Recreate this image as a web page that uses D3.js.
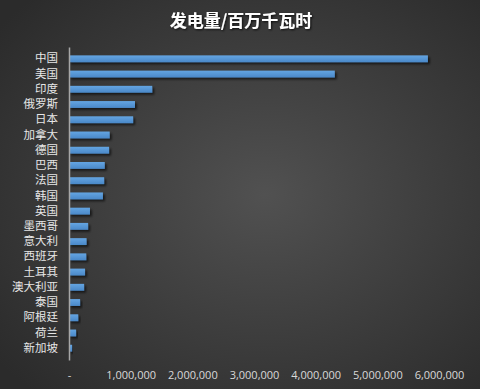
<!DOCTYPE html>
<html>
<head>
<meta charset="utf-8">
<script src="https://cdn.jsdelivr.net/npm/d3@7"></script>
<style>
  body { margin: 0; background: #fff; }
  svg { display: block; font-family: "Noto Sans CJK SC", "Noto Sans", sans-serif; }
</style>
</head>
<body>
<div id="chart"></div>
<script>
var countries = ["中国", "美国", "印度", "俄罗斯", "日本", "加拿大", "德国", "巴西", "法国", "韩国",
  "英国", "墨西哥", "意大利", "西班牙", "土耳其", "澳大利亚", "泰国", "阿根廷", "荷兰", "新加坡"];
var output = [5820000, 4310000, 1350000, 1070000, 1040000, 660000, 650000, 580000, 570000, 550000,
  340000, 310000, 285000, 280000, 260000, 245000, 180000, 150000, 115000, 50000];
var tickValues = [0, 1000000, 2000000, 3000000, 4000000, 5000000, 6000000];

var svgWidth = 482;
var svgHeight = 389;

var margin = { top: 47, right: 43, bottom: 29, left: 69 };
var width = svgWidth - margin.left - margin.right;
var height = svgHeight - margin.top - margin.bottom;

var svg = d3.select("#chart")
  .append("svg")
  .attr("width", svgWidth)
  .attr("height", svgHeight);

var defs = svg.append("defs");

// background: dark radial gradient
var bg = defs.append("radialGradient")
  .attr("id", "bg")
  .attr("cx", "55%").attr("cy", "50%").attr("r", "70%");
bg.append("stop").attr("offset", "0%").attr("stop-color", "#515151");
bg.append("stop").attr("offset", "100%").attr("stop-color", "#2b2b2b");

var barGrad = defs.append("linearGradient")
  .attr("id", "barGrad")
  .attr("x1", 0).attr("y1", 0).attr("x2", 0).attr("y2", 1);
barGrad.append("stop").attr("offset", "0%").attr("stop-color", "#64a5e2");
barGrad.append("stop").attr("offset", "100%").attr("stop-color", "#4a88c8");

var shadow = defs.append("filter").attr("id", "shadow")
  .attr("x", "-10%").attr("y", "-50%").attr("width", "130%").attr("height", "250%");
shadow.append("feDropShadow")
  .attr("dx", 2).attr("dy", 2).attr("stdDeviation", 1)
  .attr("flood-color", "#000").attr("flood-opacity", 0.6);

var titleShadow = defs.append("filter").attr("id", "titleShadow");
titleShadow.append("feDropShadow")
  .attr("dx", 1).attr("dy", 1).attr("stdDeviation", 0.8)
  .attr("flood-color", "#000").attr("flood-opacity", 0.8);

svg.append("rect")
  .attr("width", svgWidth)
  .attr("height", svgHeight)
  .attr("fill", "url(#bg)");

// thin white strip on the right edge
svg.append("rect")
  .attr("x", svgWidth - 2)
  .attr("width", 2)
  .attr("height", svgHeight)
  .attr("fill", "#ffffff");

svg.append("text")
  .attr("x", 241)
  .attr("y", 27)
  .attr("text-anchor", "middle")
  .attr("fill", "#ffffff")
  .attr("font-size", "17px")
  .attr("font-weight", "bold")
  .attr("filter", "url(#titleShadow)")
  .text("发电量/百万千瓦时");

var chartGroup = svg.append("g")
  .attr("transform", `translate(${margin.left}, ${margin.top})`);

var xScale = d3.scaleLinear()
  .domain([0, 6000000])
  .range([0, 370]);

var yScale = d3.scaleBand()
  .domain(countries)
  .range([0, height])
  .padding(0.55);

// bars
chartGroup.selectAll("rect.bar")
  .data(countries)
  .enter()
  .append("rect")
  .attr("class", "bar")
  .attr("x", 0)
  .attr("y", d => yScale(d))
  .attr("width", (d, i) => xScale(output[i]))
  .attr("height", yScale.bandwidth())
  .attr("fill", "url(#barGrad)")
  .attr("filter", "url(#shadow)");

// y axis
var leftAxis = d3.axisLeft(yScale).tickSize(0).tickPadding(11);
var yAxis = chartGroup.append("g").call(leftAxis);
yAxis.select(".domain").attr("stroke", "#a6a6a6").attr("stroke-width", 1.5);
yAxis.selectAll("text")
  .attr("fill", "#e6e6e6")
  .attr("font-size", "11.5px")
  .style("font-family", "'Noto Sans CJK SC', sans-serif");

// x axis (labels only)
var bottomAxis = d3.axisBottom(xScale)
  .tickValues(tickValues)
  .tickSize(0)
  .tickPadding(0)
  .tickFormat(d => d === 0 ? "-" : d3.format(",")(d));
var xAxis = chartGroup.append("g")
  .attr("transform", `translate(0, ${height + 11})`)
  .call(bottomAxis);
xAxis.select(".domain").remove();
xAxis.selectAll("text")
  .attr("fill", "#d9d9d9")
  .attr("font-size", "11px")
  .style("font-family", "'Open Sans', 'Noto Sans', sans-serif");
</script>
</body>
</html>
